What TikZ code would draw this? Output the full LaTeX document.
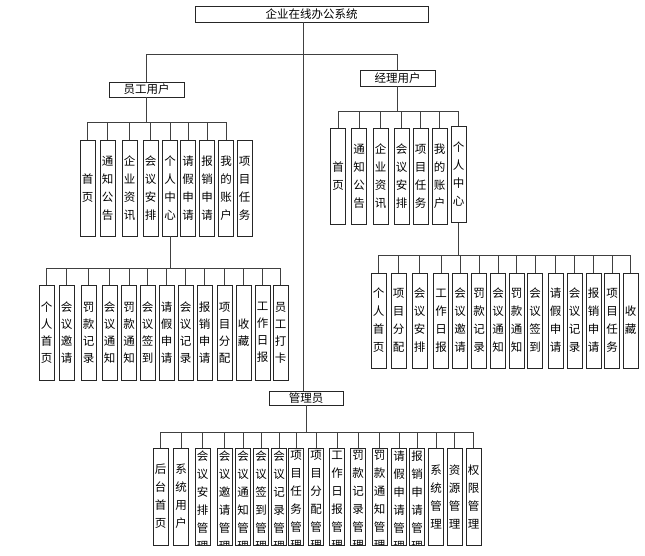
\documentclass[tikz,border=0pt]{standalone}
\usepackage{fontspec}
\newfontfamily\cjk{Noto Sans CJK SC}
\begin{document}
\begin{tikzpicture}[x=1pt,y=-1pt,
  conn/.style={draw=black!75, line width=0.9pt},
  headbox/.style={draw=black!85, line width=0.9pt, fill=white, inner sep=0pt, font=\cjk\fontsize{11.5}{14}\selectfont},
  leafbox/.style={draw=black!85, line width=0.9pt, fill=white, minimum width=15pt, inner sep=0pt, align=center, font=\cjk\fontsize{11.5}{18}\selectfont},
  leafA/.style={leafbox, minimum height=96pt},
  leafB/.style={leafbox, minimum height=95pt, font=\cjk\fontsize{11.5}{17}\selectfont},
  leafC/.style={leafbox, minimum height=95pt},
  leafD/.style={leafbox, minimum height=97pt},
  clipbox/.style={leafD, path picture={\node[inner sep=0pt, align=center, font=\cjk\fontsize{11.5}{18}\selectfont] at ([yshift=-4pt]path picture bounding box.center) {#1};}}
]
\useasboundingbox (0,0) rectangle (645,556);

% top
\node[headbox, minimum width=233pt, minimum height=16pt] (top) at (311.5,14) {企业在线办公系统};
\node[headbox, minimum width=75pt, minimum height=15pt] (emp) at (146.5,89.5) {员工用户};
\node[headbox, minimum width=75pt, minimum height=16pt] (mgr) at (397.5,78) {经理用户};
\node[headbox, minimum width=74pt, minimum height=14pt] (adm) at (306,398) {管理员};

\path (top.south) ++(-8.5,0) coordinate (t0);
\coordinate (tb) at (303,54);
\draw[conn] (t0) -- (t0 |- adm.north);
\draw[conn] (emp.north) |- (mgr.north |- tb) -- (mgr.north);

% employee level 1
\node[leafA] (e1) at (87.5,188) {首\\页};
\node[leafA] (e2) at (107.5,188) {通\\知\\公\\告};
\node[leafA] (e3) at (129.5,188) {企\\业\\资\\讯};
\node[leafA] (e4) at (150.5,188) {会\\议\\安\\排};
\node[leafA] (e5) at (170,188) {个\\人\\中\\心};
\node[leafA] (e6) at (188,188) {请\\假\\申\\请};
\node[leafA] (e7) at (207,188) {报\\销\\申\\请};
\node[leafA] (e8) at (226,188) {我\\的\\账\\户};
\node[leafA] (e9) at (244.5,188) {项\\目\\任\\务};
\coordinate (eb) at (147,122);
\draw[conn] (emp.south) -- (emp.south |- eb);
\draw[conn] (e1.north |- eb) -- (e8.north |- eb);
\foreach \n in {e1,e2,e3,e4,e5,e6,e7,e8} \draw[conn] (\n.north) -- (\n.north |- eb);

% employee level 2
\node[leafB] (p1) at (46.5,332.5) {个\\人\\首\\页};
\node[leafB] (p2) at (66.5,332.5) {会\\议\\邀\\请};
\node[leafB] (p3) at (88.5,332.5) {罚\\款\\记\\录};
\node[leafB] (p4) at (109.5,332.5) {会\\议\\通\\知};
\node[leafB] (p5) at (129,332.5) {罚\\款\\通\\知};
\node[leafB] (p6) at (147.5,332.5) {会\\议\\签\\到};
\node[leafB] (p7) at (166.5,332.5) {请\\假\\申\\请};
\node[leafB] (p8) at (185.5,332.5) {会\\议\\记\\录};
\node[leafB] (p9) at (204.5,332.5) {报\\销\\申\\请};
\node[leafB] (p10) at (224.5,332.5) {项\\目\\分\\配};
\node[leafB] (p11) at (243.5,332.5) {收\\藏};
\node[leafB] (p12) at (262.5,332.5) {工\\作\\日\\报};
\node[leafB] (p13) at (280.5,332.5) {员\\工\\打\\卡};
\coordinate (pb) at (169,268);
\draw[conn] (e5.south) -- (e5.south |- pb);
\draw[conn] (p1.north |- pb) -- (p13.north |- pb);
\foreach \n in {p1,p2,p3,p4,p5,p6,p7,p8,p9,p10,p11,p12,p13} \draw[conn] (\n.north) -- (\n.north |- pb);

% manager level 1
\node[leafA] (m1) at (338,176) {首\\页};
\node[leafA] (m2) at (359,176) {通\\知\\公\\告};
\node[leafA] (m3) at (380.5,176) {企\\业\\资\\讯};
\node[leafA] (m4) at (401.5,176) {会\\议\\安\\排};
\node[leafA] (m5) at (420.5,176) {项\\目\\任\\务};
\node[leafA] (m6) at (439.5,176) {我\\的\\账\\户};
\node[leafA] (m7) at (458.5,174.5) {个\\人\\中\\心};
\coordinate (mb) at (397.5,111);
\draw[conn] (mgr.south) -- (mgr.south |- mb);
\draw[conn] (m1.north |- mb) -- (m7.north |- mb);
\foreach \n in {m1,m2,m3,m4,m5,m6,m7} \draw[conn] (\n.north) -- (\n.north |- mb);

% manager level 2
\node[leafC] (q1) at (378.5,320.5) {个\\人\\首\\页};
\node[leafC] (q2) at (398.5,320.5) {项\\目\\分\\配};
\node[leafC] (q3) at (419.5,320.5) {会\\议\\安\\排};
\node[leafC] (q4) at (441,320.5) {工\\作\\日\\报};
\node[leafC] (q5) at (460,320.5) {会\\议\\邀\\请};
\node[leafC] (q6) at (479,320.5) {罚\\款\\记\\录};
\node[leafC] (q7) at (498,320.5) {会\\议\\通\\知};
\node[leafC] (q8) at (516.5,320.5) {罚\\款\\通\\知};
\node[leafC] (q9) at (535,320.5) {会\\议\\签\\到};
\node[leafC] (q10) at (555.5,320.5) {请\\假\\申\\请};
\node[leafC] (q11) at (574.5,320.5) {会\\议\\记\\录};
\node[leafC] (q12) at (593.5,320.5) {报\\销\\申\\请};
\node[leafC] (q13) at (612,320.5) {项\\目\\任\\务};
\node[leafC] (q14) at (630.5,320.5) {收\\藏};
\coordinate (qb) at (458,255);
\draw[conn] (m7.south) -- (m7.south |- qb);
\draw[conn] (q1.north |- qb) -- (q14.north |- qb);
\foreach \n in {q1,q2,q3,q4,q5,q6,q7,q8,q9,q10,q11,q12,q13,q14} \draw[conn] (\n.north) -- (\n.north |- qb);

% admin
\node[leafD] (a1) at (160.5,496.5) {后\\台\\首\\页};
\node[leafD] (a2) at (181,496.5) {系\\统\\用\\户};
\node[clipbox={会\\议\\安\\排\\管\\理}] (a3) at (202.5,496.5) {};
\node[clipbox={会\\议\\邀\\请\\管\\理}] (a4) at (224.5,496.5) {};
\node[clipbox={会\\议\\通\\知\\管\\理}] (a5) at (243,496.5) {};
\node[clipbox={会\\议\\签\\到\\管\\理}] (a6) at (261,496.5) {};
\node[clipbox={会\\议\\记\\录\\管\\理}] (a7) at (279,496.5) {};
\node[clipbox={项\\目\\任\\务\\管\\理}] (a8) at (296,496.5) {};
\node[clipbox={项\\目\\分\\配\\管\\理}] (a9) at (316,496.5) {};
\node[clipbox={工\\作\\日\\报\\管\\理}] (a10) at (337,496.5) {};
\node[clipbox={罚\\款\\记\\录\\管\\理}] (a11) at (358,496.5) {};
\node[clipbox={罚\\款\\通\\知\\管\\理}] (a12) at (379.5,496.5) {};
\node[clipbox={请\\假\\申\\请\\管\\理}] (a13) at (399,496.5) {};
\node[clipbox={报\\销\\申\\请\\管\\理}] (a14) at (417,496.5) {};
\node[leafD] (a15) at (436,496.5) {系\\统\\管\\理};
\node[leafD] (a16) at (454.5,496.5) {资\\源\\管\\理};
\node[leafD] (a17) at (473.5,496.5) {权\\限\\管\\理};
\coordinate (ab) at (306,432);
\draw[conn] (adm.south) -- (adm.south |- ab);
\draw[conn] (a1.north |- ab) -- (a17.north |- ab);
\foreach \n in {a1,a2,a3,a4,a5,a6,a7,a8,a9,a10,a11,a12,a13,a14,a15,a16,a17} \draw[conn] (\n.north) -- (\n.north |- ab);
\end{tikzpicture}
\end{document}
